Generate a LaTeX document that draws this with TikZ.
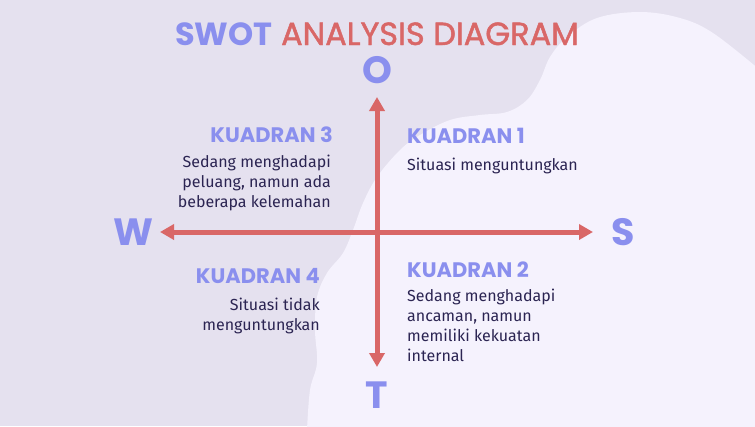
\documentclass[tikz,border=0pt]{standalone}
\usepackage{fontspec}
\setmainfont{Fira Sans}
\newfontfamily\headfont{Poppins}
\newfontfamily\medfont[FakeBold=1.5]{Poppins}
\usetikzlibrary{arrows.meta}
\definecolor{bgcol}{HTML}{E5E1EF}
\definecolor{blobcol}{HTML}{F5F2FD}
\definecolor{bluecol}{HTML}{8A8FEE}
\definecolor{redcol}{HTML}{D96767}
\definecolor{darkcol}{HTML}{2B2452}
\tikzset{
  axislabel/.style={inner sep=0pt, text=bluecol, font=\headfont\bfseries\fontsize{38}{38}\selectfont},
  quadhead/.style={inner sep=0pt, text=bluecol, font=\headfont\bfseries\fontsize{21}{21}\selectfont},
  quadbody/.style={inner sep=0pt, text=darkcol, font=\fontsize{16}{20}\selectfont},
  axisline/.style={draw=redcol, line width=5pt, {Triangle[length=14pt,width=15pt]}-{Triangle[length=14pt,width=15pt]}}
}
\begin{document}
\begin{tikzpicture}[x=1pt,y=-1pt]
\useasboundingbox (0,0) rectangle (755,426);
\fill[bgcol] (0,0) rectangle (755,426);
\fill[blobcol] plot[smooth, tension=0.6] coordinates {(760,70) (713,33) (680,18) (640,12) (597,18) (567,37) (550,57) (540,80) (527,100) (507,112) (480,115) (450,120) (420,135) (400,150) (377,177) (363,203) (353,230) (343,253) (327,273) (317,297) (315,330) (317,363) (310,390) (307,430)} -- (760,430) -- cycle;
\node[anchor=base, inner sep=0pt, font=\headfont\fontsize{32}{32}\selectfont] (title) at (377,45) {\textcolor{bluecol}{\bfseries SWOT} \textcolor{redcol}{\medfont ANALYSIS DIAGRAM}};
\node[axislabel, anchor=base] (O) at (377,83) {O};
\node[axislabel, anchor=base] (T) at (377,408) {T};
\node[axislabel, anchor=base] (W) at (133,245) {W};
\node[axislabel, anchor=base] (S) at (623,245) {S};
\coordinate (otip) at (377,97);
\coordinate (ttip) at (377,367);
\coordinate (wtip) at (160,232);
\coordinate (stip) at (593,232);
\draw[axisline] (wtip) -- (stip);
\draw[axisline] (otip) -- (ttip);
\node[quadhead, anchor=base west] (k1) at (407,143) {KUADRAN 1};
\node[quadbody, anchor=base west] (b1) at (407,170) {Situasi menguntungkan};
\node[quadhead, anchor=base east] (k3) at (333,142) {KUADRAN 3};
\node[quadbody, anchor=base east, align=right] (b3) at (331,207) {Sedang menghadapi\\peluang, namun ada\\beberapa kelemahan};
\node[quadhead, anchor=base east] (k4) at (320,283) {KUADRAN 4};
\node[quadbody, anchor=base east, align=right] (b4) at (320,330) {Situasi tidak\\menguntungkan};
\node[quadhead, anchor=base west] (k2) at (407,277) {KUADRAN 2};
\node[quadbody, anchor=base west, align=left] (b2) at (407,361) {Sedang menghadapi\\ancaman, namun\\memiliki kekuatan\\internal};
\end{tikzpicture}
\end{document}
